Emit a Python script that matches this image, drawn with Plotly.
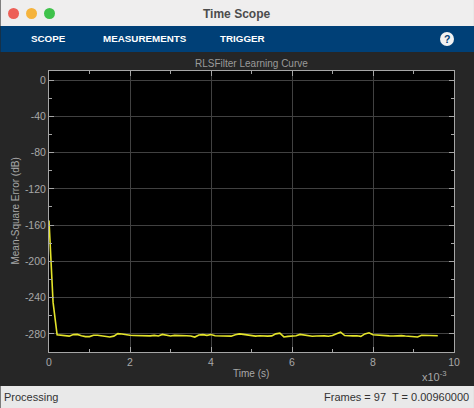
import plotly.graph_objects as go

# Learning curve, one value per frame
mse_db = [
    -155, -245, -281, -281.5, -282.5, -282.5, -280.8, -280.6, -282, -283,
    -283, -281.6, -281.5, -282.3, -282.6, -283.5, -282.5, -279.8, -280.2, -281.2,
    -281.6, -281.8, -282, -281.6, -282, -282.2, -281.7, -282.3, -280.6, -281.8,
    -282.4, -281.7, -281.6, -282, -282, -282.4, -283.5, -281.2, -280.8, -281.6,
    -280.7, -282, -282.2, -282.6, -282.7, -282.5, -281, -280, -280.6, -281,
    -281.6, -282.5, -282, -282.6, -282.5, -282.2, -280, -279.2, -283.4, -282.8,
    -282.6, -282, -280.6, -281.4, -282, -282.6, -282.3, -282, -282.2, -282.6,
    -281.8, -279.8, -278.2, -281.8, -282.4, -282.2, -282, -282.8, -280, -278.8,
    -281, -281.5, -281.8, -282, -282.2, -282.4, -282, -281.9, -282.4, -282.7,
    -283.4, -283.5, -281.6, -281.5, -282, -281.8, -282,
]
frame_period = 1e-4
time_s = [i * frame_period for i in range(len(mse_db))]

x_ticks = [0, 0.002, 0.004, 0.006, 0.008, 0.01]
x_labels = ["0", "2", "4", "6", "8", "10"]
y_ticks = [0, -40, -80, -120, -160, -200, -240, -280]
y_labels = ["0", "-40", "-80", "-120", "-160", "-200", "-240", "-280"]
y_minor = [-20, -60, -100, -140, -180, -220, -260]
menu_items = [("SCOPE", 47.5), ("MEASUREMENTS", 144.5), ("TRIGGER", 242.5)]
lights = [(13, "#ed5f57"), (31, "#f5b33c"), (49, "#3fc24b")]

W, H = 474, 408
L, R, T, B = 48.5, 20, 71, 56


# window pixels to paper coordinates
def px(x):
    return (x - L) / (W - L - R)


def py(y):
    return 1 - (y - T) / (H - T - B)


def bar(y0, y1, color):
    return dict(type="rect", xref="paper", yref="paper", x0=px(0), x1=px(W),
                y0=py(y1), y1=py(y0), fillcolor=color, line_width=0, layer="below")


def label(x, y, text, color, size, anchor="center", **kw):
    return dict(xref="paper", yref="paper", x=px(x), y=py(y), text=text, showarrow=False,
                xanchor=anchor, yanchor="middle", font=dict(color=color, size=size), **kw)


shapes = [bar(0, 26, "#efeeee"), bar(26, 52, "#004077"), bar(386, 408, "#e9e9e9")]
for cx, color in lights:
    shapes.append(dict(type="circle", xref="paper", yref="paper", x0=px(cx - 5.5), x1=px(cx + 5.5),
                       y0=py(19), y1=py(8), fillcolor=color, line_width=0))
shapes.append(dict(type="circle", xref="paper", yref="paper", x0=px(440), x1=px(454),
                   y0=py(46), y1=py(32), fillcolor="#f2f2f2", line_width=0))

annotations = [
    label(236, 13.5, "<b>Time Scope</b>", "#4c4c4c", 12),
    label(447, 39, "<b>?</b>", "#004077", 10.5),
    label(251, 64, "RLSFilter Learning Curve", "#9a9a9a", 10),
    label(251, 373, "Time (s)", "#a8a8a8", 10),
    label(14, 211, "Mean-Square Error (dB)", "#a8a8a8", 10, textangle=-90),
    label(434, 376, "x10<sup>-3</sup>", "#a8a8a8", 11),
    label(1, 397, "Processing", "#333333", 11, anchor="left"),
    label(471, 397, "Frames = 97  T = 0.00960000", "#333333", 11, anchor="right"),
]
for name, x in menu_items:
    annotations.append(label(x, 39, "<b>%s</b>" % name, "#ffffff", 9.8))

fig = go.Figure(go.Scatter(x=time_s, y=mse_db, mode="lines", line=dict(color="#e4e42a", width=1.6)))

axis_style = dict(showline=True, linecolor="#a6a6a6", linewidth=1, mirror="allticks", ticks="inside",
                  ticklen=5, tickcolor="#a6a6a6", showgrid=True, gridcolor="#414141", gridwidth=1,
                  zeroline=False, tickfont=dict(color="#a8a8a8", size=10.5))

fig.update_layout(
    width=W, height=H, autosize=False, showlegend=False,
    margin=dict(l=L, r=R, t=T, b=B, pad=0),
    paper_bgcolor="#262626", plot_bgcolor="#000000",
    font=dict(family="Liberation Sans, Arial, sans-serif"),
    shapes=shapes, annotations=annotations,
)
fig.update_xaxes(range=[0, 0.01], tickvals=x_ticks, ticktext=x_labels,
                 minor=dict(tickvals=[0.001, 0.003, 0.005, 0.007, 0.009], ticks="inside", ticklen=3,
                            tickcolor="#a6a6a6", showgrid=False),
                 **axis_style)
fig.update_yaxes(range=[-300, 10], tickvals=y_ticks, ticktext=y_labels,
                 minor=dict(tickvals=y_minor, ticks="inside", ticklen=3,
                            tickcolor="#a6a6a6", showgrid=False),
                 **axis_style)

fig.write_html("out.html", config=dict(displayModeBar=False),
               post_script="document.body.style.margin='0';")
